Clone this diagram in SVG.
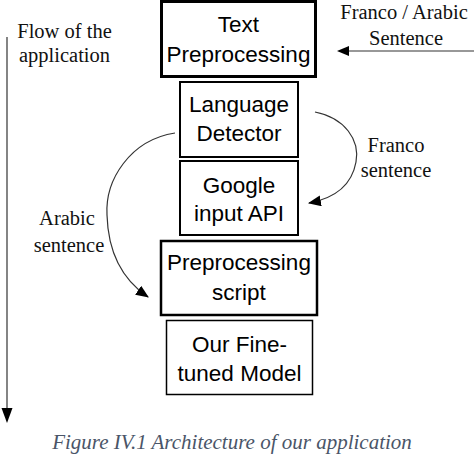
<svg xmlns="http://www.w3.org/2000/svg" width="474" height="455" viewBox="0 0 474 455">
<style>
.box{fill:#fff;stroke:#000}
.bt{font-family:"Liberation Sans",Arial,sans-serif;font-size:22.5px;fill:#000;text-anchor:middle}
.lb{font-family:"Liberation Serif","Times New Roman",serif;font-size:20.5px;fill:#111;text-anchor:middle}
.cap{font-family:"Liberation Serif","Times New Roman",serif;font-style:italic;font-size:21px;fill:#4a5568;text-anchor:middle}
.ln{fill:none;stroke:#333;stroke-width:1.2}
</style>
<defs>
<marker id="ah" viewBox="0 0 12 10" refX="11" refY="5" markerWidth="13" markerHeight="11" markerUnits="userSpaceOnUse" orient="auto">
<path d="M0,0 L12,5 L0,10 Z" fill="#000"/>
</marker>
</defs>
<g id="connectors">
<line class="ln" x1="7" y1="37" x2="7" y2="410" stroke="#555" stroke-width="1.5"/>
<path d="M1.5,408 L12.5,408 L7,423 Z" fill="#000"/>
<line class="ln" x1="474" y1="51" x2="348" y2="51"/>
<path d="M337,51 L349,46 L349,56 Z" fill="#000"/>
<path class="ln" d="M315,112 C345,118 360,140 356,162 C352,184 336,198 309,203" marker-end="url(#ah)"/>
<path class="ln" d="M175,133 C130,140 105,180 107,215 C108,250 120,278 148,297" marker-end="url(#ah)"/>
</g>
<g id="flow-label">
<text class="lb" x="64.5" y="38" font-size="21.5">Flow of the</text>
<text class="lb" x="64.5" y="62" font-size="21.5">application</text>
</g>
<g id="input-label">
<text class="lb" x="404" y="19">Franco / Arabic</text>
<text class="lb" x="406" y="45">Sentence</text>
</g>
<g id="franco-label">
<text class="lb" x="396" y="152">Franco</text>
<text class="lb" x="396" y="177">sentence</text>
</g>
<g id="arabic-label">
<text class="lb" x="67" y="225">Arabic</text>
<text class="lb" x="69" y="252">sentence</text>
</g>
<g id="text-preprocessing">
<rect class="box" x="161.5" y="1.5" width="154" height="75" stroke-width="3"/>
<text class="bt" x="238.5" y="32">Text</text>
<text class="bt" x="238.5" y="62">Preprocessing</text>
</g>
<g id="language-detector">
<rect class="box" x="180" y="82" width="118" height="75" stroke-width="2"/>
<text class="bt" x="239" y="112">Language</text>
<text class="bt" x="239" y="141">Detector</text>
</g>
<g id="google-input-api">
<rect class="box" x="180" y="161" width="118" height="74" stroke-width="2"/>
<text class="bt" x="239" y="193">Google</text>
<text class="bt" x="239" y="221">input API</text>
</g>
<g id="preprocessing-script">
<rect class="box" x="161" y="241" width="156" height="74" stroke-width="2.5"/>
<text class="bt" x="239" y="270">Preprocessing</text>
<text class="bt" x="239" y="300">script</text>
</g>
<g id="fine-tuned-model">
<rect class="box" x="166.5" y="320.5" width="146" height="74" stroke-width="1.5"/>
<text class="bt" x="239.5" y="352">Our Fine-</text>
<text class="bt" x="239.5" y="381">tuned Model</text>
</g>
<g id="caption">
<text class="cap" x="232" y="449">Figure IV.1 Architecture of our application</text>
</g>
</svg>
